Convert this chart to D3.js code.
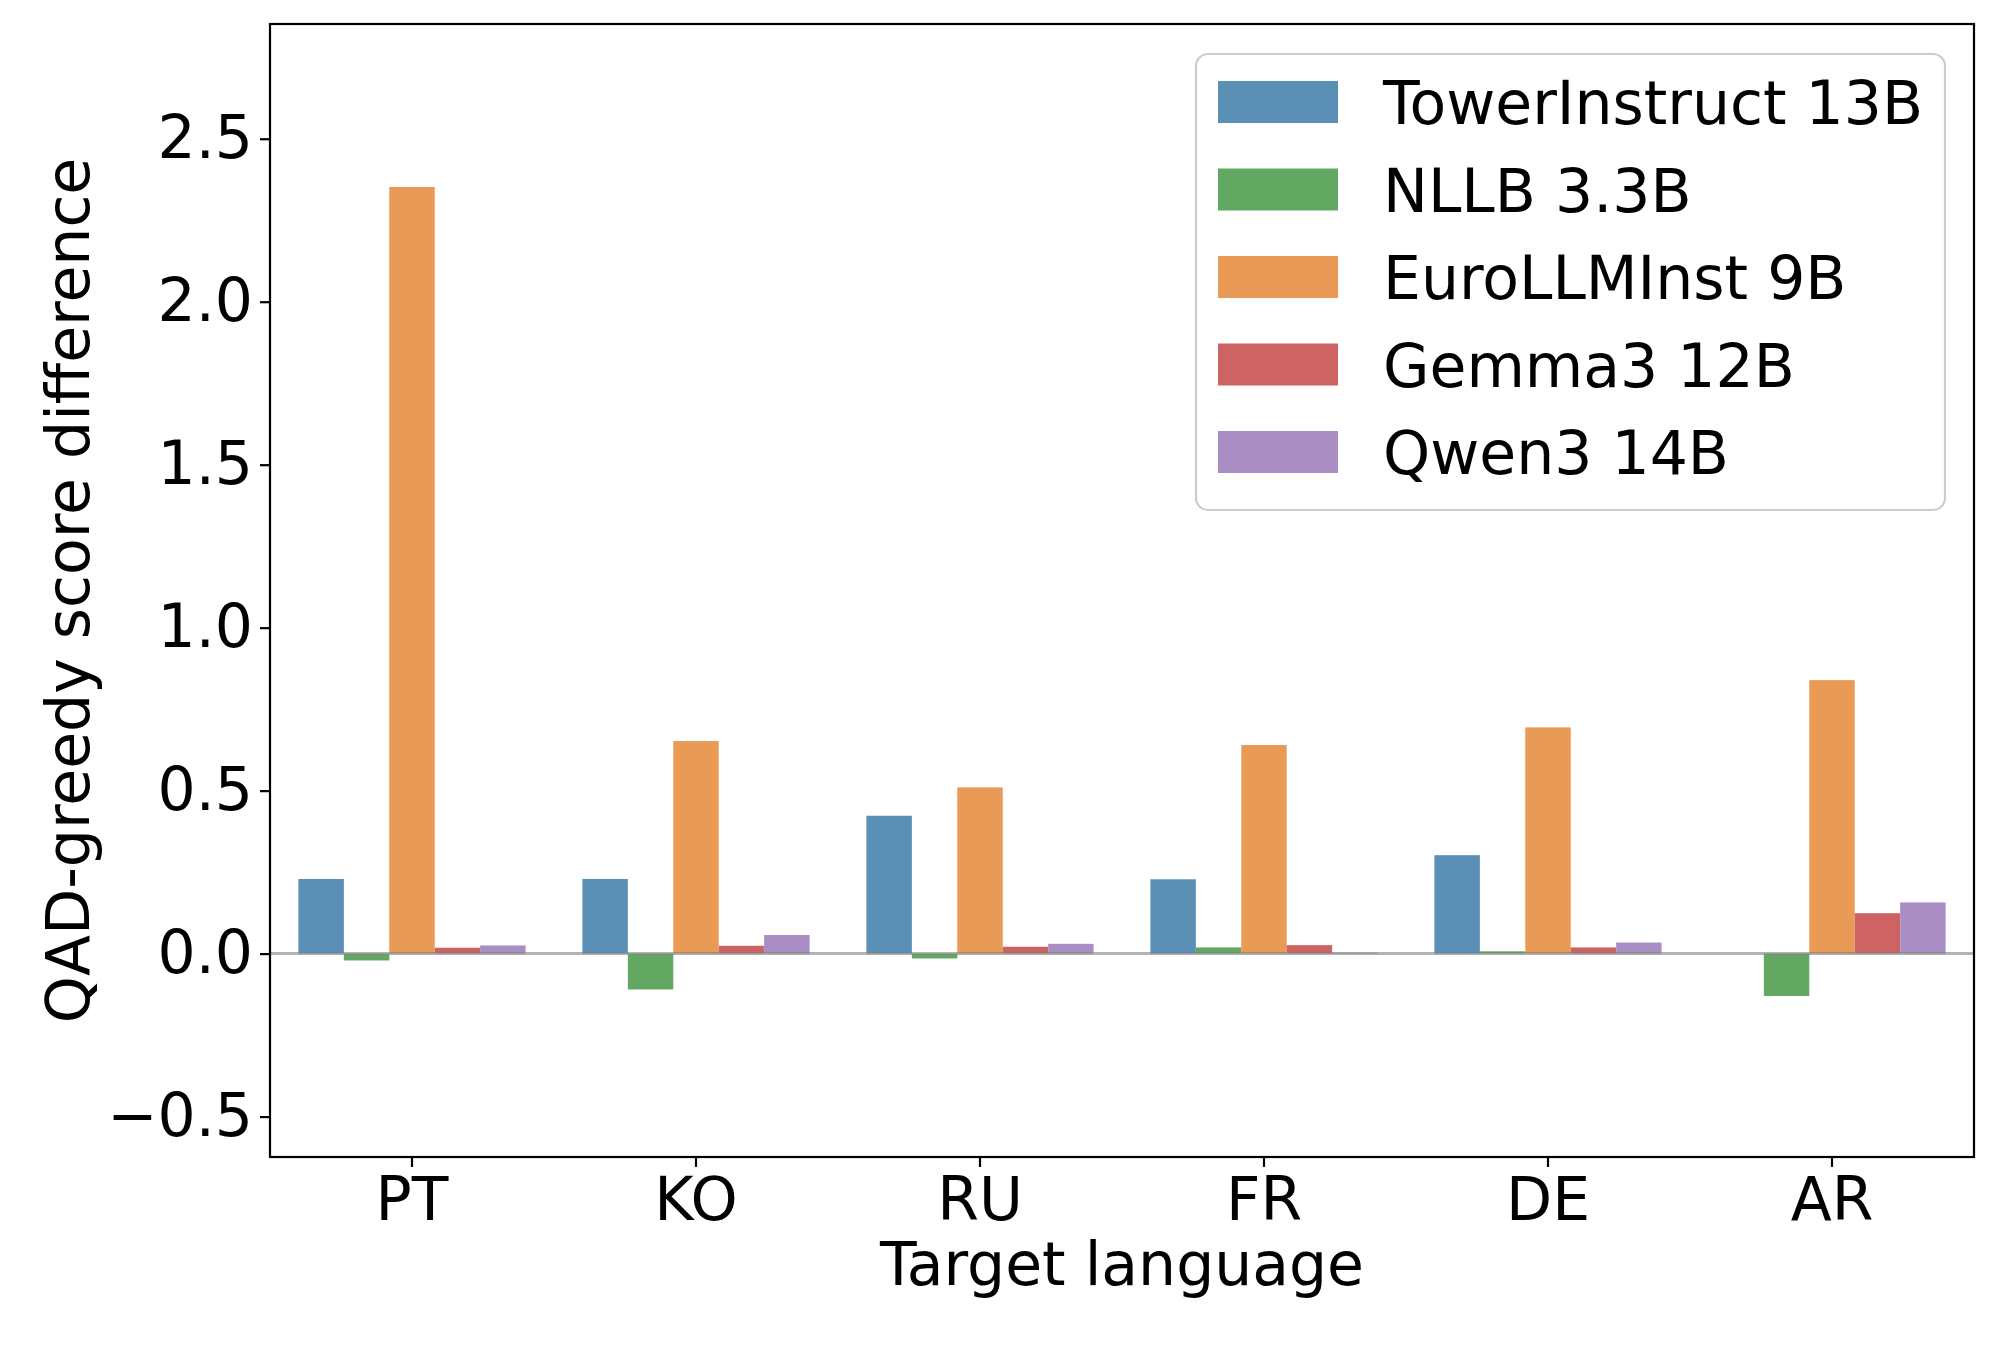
<!DOCTYPE html>
<html>
<head>
<meta charset="utf-8">
<script src="https://cdn.jsdelivr.net/npm/d3@7"></script>
<style>
  body { margin: 0; background: #fff; }
  text { font-family: "DejaVu Sans", sans-serif; fill: #000; }
</style>
</head>
<body>
<svg id="chart" width="2016" height="1364"></svg>
<script>
const categories = ["PT", "KO", "RU", "FR", "DE", "AR"];
const seriesNames = ["TowerInstruct 13B", "NLLB 3.3B", "EuroLLMInst 9B", "Gemma3 12B", "Qwen3 14B"];
const seriesColors = ["#5a8fb6", "#62a862", "#e89a56", "#cd6363", "#a98ec3"];
const towerValues  = [0.229, 0.229, 0.423, 0.228, 0.302, 0.0];
const nllbValues   = [-0.021, -0.110, -0.015, 0.019, 0.007, -0.130];
const euroValues   = [2.352, 0.652, 0.510, 0.640, 0.694, 0.839];
const gemmaValues  = [0.018, 0.024, 0.021, 0.026, 0.019, 0.124];
const qwenValues   = [0.025, 0.057, 0.030, 0.003, 0.034, 0.157];
const yTicks = [-0.5, 0.0, 0.5, 1.0, 1.5, 2.0, 2.5];

const allSeries = [towerValues, nllbValues, euroValues, gemmaValues, qwenValues];

const svg = d3.select("#chart");
const mLeft = 270, mRight = 1974, mTop = 24, mBottom = 1157;

const x = d3.scaleBand().domain(categories).range([mLeft, mRight]).paddingInner(0).paddingOuter(0);
const groupWidth = x.bandwidth() * 0.8;
const xSub = d3.scaleBand().domain(d3.range(seriesNames.length))
  .range([0, groupWidth]);
const y = d3.scaleLinear().domain([-0.624, 2.852]).range([mBottom, mTop]);

// bars
allSeries.forEach((vals, si) => {
  svg.append("g").selectAll("rect").data(vals).join("rect")
    .attr("x", (d, i) => x(categories[i]) + (x.bandwidth() - groupWidth) / 2 + xSub(si))
    .attr("width", xSub.bandwidth())
    .attr("y", d => y(Math.max(0, d)))
    .attr("height", d => Math.abs(y(d) - y(0)))
    .attr("fill", seriesColors[si]);
});

// zero line
svg.append("line")
  .attr("x1", mLeft).attr("x2", mRight)
  .attr("y1", y(0)).attr("y2", y(0))
  .attr("stroke", "#808080").attr("stroke-opacity", 0.6).attr("stroke-width", 3);

// axes
const yAxis = d3.axisLeft(y).tickValues(yTicks)
  .tickFormat(d => d3.format(".1f")(d).replace("-", "\u2212"))
  .tickSize(10).tickPadding(7);
const gy = svg.append("g").attr("transform", `translate(${mLeft},0)`).call(yAxis);
gy.select(".domain").remove();
gy.selectAll("line").attr("stroke", "#000").attr("stroke-width", 2.2);
gy.selectAll("text").attr("font-size", 60).style("font-family", "DejaVu Sans");

const xAxis = d3.axisBottom(x).tickSize(10).tickPadding(10);
const gx = svg.append("g").attr("transform", `translate(0,${mBottom})`).call(xAxis);
gx.select(".domain").remove();
gx.selectAll("line").attr("stroke", "#000").attr("stroke-width", 2.2);
gx.selectAll("text").attr("font-size", 60).style("font-family", "DejaVu Sans");

// frame
svg.append("rect")
  .attr("x", mLeft).attr("y", mTop)
  .attr("width", mRight - mLeft).attr("height", mBottom - mTop)
  .attr("fill", "none").attr("stroke", "#000").attr("stroke-width", 2.2);

// axis labels
svg.append("text")
  .attr("x", (mLeft + mRight) / 2).attr("y", 1285)
  .attr("text-anchor", "middle").attr("font-size", 60)
  .text("Target language");
svg.append("text")
  .attr("transform", `translate(89,${(mTop + mBottom) / 2}) rotate(-90)`)
  .attr("text-anchor", "middle").attr("font-size", 60)
  .text("QAD-greedy score difference");

// legend
const legX = 1196, legY = 54, legW = 1945 - 1196, legH = 510 - 54;
svg.append("rect")
  .attr("x", legX).attr("y", legY).attr("width", legW).attr("height", legH)
  .attr("rx", 12).attr("ry", 12)
  .attr("fill", "#fff").attr("fill-opacity", 0.8)
  .attr("stroke", "#cccccc").attr("stroke-width", 2.2);
const leg = svg.append("g").selectAll("g").data(seriesNames).join("g")
  .attr("transform", (d, i) => `translate(0,${102 + i * 87.5})`);
leg.append("rect")
  .attr("x", 1218).attr("y", -21).attr("width", 120).attr("height", 42)
  .attr("fill", (d, i) => seriesColors[i]);
leg.append("text")
  .attr("x", 1383).attr("y", 22).attr("font-size", 60)
  .text(d => d);
</script>
</body>
</html>
